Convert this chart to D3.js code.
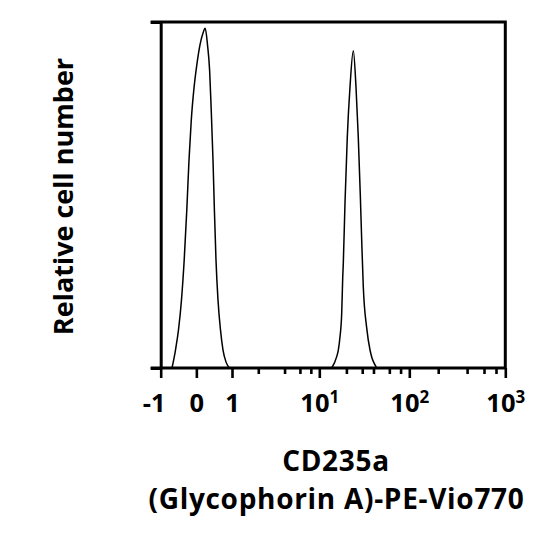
<!DOCTYPE html>
<html><head><meta charset="utf-8">
<script src="https://cdn.jsdelivr.net/npm/d3@7"></script>
<style>body{margin:0;background:#fff}</style>
</head><body>
<svg id="c" width="540" height="540"></svg>
<script>
// Data: fluorescence value (x) vs relative cell count (y, % of full scale)
const controlX = [-0.683,-0.585,-0.501,-0.417,-0.341,-0.268,-0.206,-0.142,-0.072,0.013,0.102,0.187,0.248,0.313,0.372,0.417,0.467,0.506,0.551,0.607,0.677,0.748,0.833,0.930];
const controlY = [0,5.2,11.0,19.7,31.2,45.7,60.1,71.7,80.3,87.6,93.4,96.8,98.2,93.4,86.1,74.6,60.1,45.7,31.2,19.7,11.0,5.2,1.7,0];
const stainedX = [13.73,15.61,16.26,16.98,17.74,18.2,18.48,19.30,20.47,21.93,23.87,25.57,27.1,28.55,29.58,30.83,33.62,36.6,38.5,41.6,43.4];
const stainedY = [0,3.3,5.2,9.0,15.8,26.0,30.3,47.7,66.8,81.2,91.7,81.2,66.8,50.0,37.0,23.4,11.6,5.2,2.9,0.9,0];
const majorTicks = [-1,0,1,10,100,1000];
const minorTicks = [2,4,6,8,20,30,40,60,80,200,400,600,800];
const yTicks = [0,100];
const xTitle = ["CD235a","(Glycophorin A)-PE-Vio770"];
const yTitle = "Relative cell number";

const L = 160.7, R = 505.3, T = 22, B = 368;
const svg = d3.select("#c");
const font = "'Open Sans', sans-serif";

// biexponential-like display: linear from -1 to 1, log above
const xT = v => v <= 1 ? v : 1 + Math.log10(v);
const xs = d3.scaleLinear().domain([-1,1,2,3,4]).range([L, L+71.3, L+158.6, L+248.6, R]);
const ys = d3.scaleLinear().domain([0,100]).range([B, T]);

// top and right frame
svg.append("path").attr("d", `M${L-10},${T}H${R}V${B}`).attr("fill","none").attr("stroke","#000").attr("stroke-width",3);

// minor ticks
const gMinor = svg.append("g").attr("transform",`translate(0,${B})`)
  .call(d3.axisBottom(xs).tickValues(minorTicks.map(xT)).tickSizeInner(6).tickSizeOuter(0).tickFormat(""));
gMinor.select(".domain").remove();
gMinor.selectAll("line").attr("stroke-width",2.6);

// major axis
const gx = svg.append("g").attr("transform",`translate(0,${B})`)
  .call(d3.axisBottom(xs).tickValues(majorTicks.map(xT)).tickSizeInner(10).tickSizeOuter(0));
gx.select(".domain").attr("d", `M${L-10},0H${R}`).attr("stroke-width",3);
gx.selectAll("line").attr("stroke-width",2.6);
gx.selectAll("text").each(function(d, i){
  const v = majorTicks[i];
  const t = d3.select(this).text(null).attr("y",43.7).attr("dy",null)
    .attr("font-family",font).attr("font-weight","bold").attr("font-size",25.5).attr("fill","#000");
  if (v <= 1) {
    t.text(String(v));
    if (v < 0) t.attr("dx",-7);
  } else {
    t.append("tspan").text("10");
    t.append("tspan").attr("dy",-9).attr("font-size",17).text(String(Math.round(Math.log10(v))));
  }
});

// y axis
const gy = svg.append("g").attr("transform",`translate(${L},0)`)
  .call(d3.axisLeft(ys).tickValues(yTicks).tickSizeInner(10).tickSizeOuter(0).tickFormat(""));
gy.select(".domain").attr("stroke-width",3);
gy.selectAll("line").attr("stroke-width",3);

// histograms
const line = d3.line().x(d => xs(xT(d[0]))).y(d => ys(d[1])).curve(d3.curveMonotoneX);
[[controlX,controlY],[stainedX,stainedY]].forEach(([X,Y]) => {
  svg.append("path").datum(X.map((x,i)=>[x,Y[i]]))
    .attr("d", line).attr("fill","none").attr("stroke","#000").attr("stroke-width",1.5);
});

// titles
svg.append("text").attr("x",336).attr("y",470.7).attr("text-anchor","middle")
  .attr("font-family",font).attr("font-weight","bold").attr("font-size",28).attr("letter-spacing",0.7).text(xTitle[0]);
svg.append("text").attr("x",336.5).attr("y",509).attr("text-anchor","middle")
  .attr("font-family",font).attr("font-weight","bold").attr("font-size",28).attr("letter-spacing",0.7).text(xTitle[1]);
svg.append("text").attr("transform","translate(73.3,196.5) rotate(-90)").attr("text-anchor","middle")
  .attr("font-family",font).attr("font-weight","bold").attr("font-size",27).text(yTitle);
</script>
</body></html>
